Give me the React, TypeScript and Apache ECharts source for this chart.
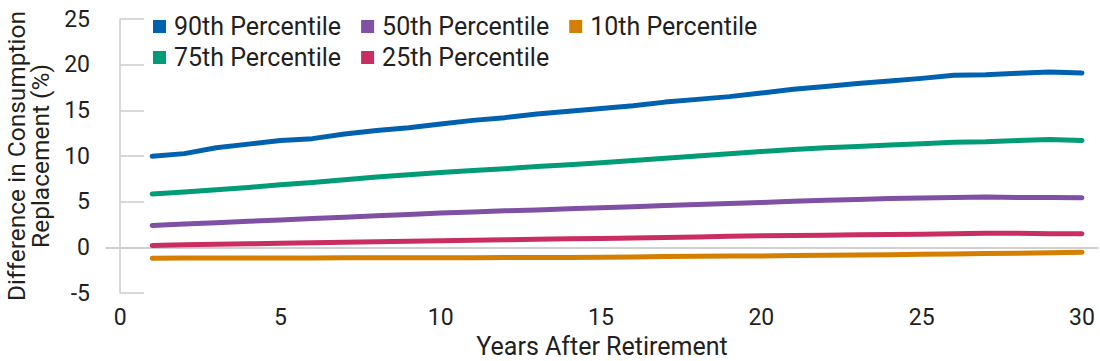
import React, { useEffect, useRef } from "react";
import * as echarts from "echarts";

const years = [1,2,3,4,5,6,7,8,9,10,11,12,13,14,15,16,17,18,19,20,21,22,23,24,25,26,27,28,29,30];
const p90 = [9.96,10.26,10.9,11.3,11.7,11.9,12.4,12.8,13.1,13.5,13.9,14.2,14.6,14.9,15.2,15.5,15.9,16.2,16.5,16.9,17.3,17.6,17.95,18.2,18.5,18.85,18.9,19.05,19.2,19.1];
const p75 = [5.85,6.05,6.3,6.55,6.85,7.1,7.4,7.7,7.95,8.2,8.4,8.6,8.85,9.05,9.25,9.5,9.75,10.0,10.25,10.5,10.7,10.9,11.05,11.2,11.35,11.5,11.55,11.7,11.8,11.7];
const p50 = [2.4,2.55,2.7,2.85,3.0,3.15,3.3,3.45,3.6,3.75,3.87,4.0,4.1,4.22,4.33,4.45,4.57,4.68,4.8,4.9,5.05,5.15,5.25,5.35,5.4,5.45,5.5,5.45,5.45,5.42];
const p25 = [0.2,0.27,0.33,0.38,0.44,0.5,0.55,0.61,0.67,0.73,0.78,0.83,0.88,0.93,0.98,1.03,1.08,1.13,1.2,1.26,1.3,1.33,1.37,1.4,1.44,1.5,1.55,1.55,1.5,1.48];
const p10 = [-1.2,-1.18,-1.17,-1.17,-1.16,-1.16,-1.15,-1.15,-1.14,-1.14,-1.13,-1.12,-1.11,-1.1,-1.09,-1.07,-1.0,-0.98,-0.96,-0.94,-0.9,-0.87,-0.84,-0.8,-0.76,-0.72,-0.68,-0.64,-0.58,-0.55];
const xTicks = [0,5,10,15,20,25,30];

const seriesNames = ["90th Percentile","75th Percentile","50th Percentile","25th Percentile","10th Percentile"];
const seriesData = [p90, p75, p50, p25, p10];
const colors = ["#0061AE","#009B77","#7F50A3","#C92D62","#D47F00"];

const FONT = "Roboto";
const TEXT = "#231f20";

export default function App() {
  const ref = useRef<HTMLDivElement>(null);
  useEffect(() => {
    if (!ref.current) return;
    const chart = echarts.init(ref.current, undefined, { renderer: "svg" });
    const series = seriesNames.map((name, i) => ({
      name,
      type: "line",
      data: years.map((y, j) => [y, seriesData[i][j]]),
      showSymbol: false,
      symbol: "none",
      lineStyle: { color: colors[i], width: 5, cap: "round", join: "round" },
      itemStyle: { color: colors[i] },
      z: 3,
      ...(i === 0
        ? {
            markLine: {
              silent: true,
              symbol: "none",
              label: { show: false },
              lineStyle: { color: "#cccccc", width: 1.5, type: "solid" },
              data: [{ yAxis: 0 }],
              z: 1,
            },
          }
        : {}),
    }));
    const legendCommon = {
      left: 148,
      orient: "horizontal",
      icon: "rect",
      itemWidth: 13,
      itemHeight: 13,
      itemGap: 20,
      selectedMode: false,
      textStyle: { fontFamily: FONT, fontSize: 25, color: TEXT, padding: [0, 0, 0, 3] },
    };
    chart.setOption({
      animation: false,
      color: colors,
      textStyle: { fontFamily: FONT },
      legend: [
        { ...legendCommon, top: 9, data: ["90th Percentile", "50th Percentile", "10th Percentile"] },
        { ...legendCommon, top: 40, data: ["75th Percentile", "25th Percentile"] },
      ],
      grid: { left: 106, right: 2, top: 19, bottom: 68, containLabel: false, outerBoundsMode: "none" },
      xAxis: {
        type: "value",
        min: -0.44,
        max: 30.5,
        name: "Years After Retirement",
        nameLocation: "middle",
        nameGap: 34,
        nameTextStyle: { fontFamily: FONT, fontSize: 25, color: TEXT },
        axisLine: { show: true, lineStyle: { color: "#cccccc", width: 1.5 } },
        axisTick: { show: false },
        splitLine: { show: false },
        axisLabel: {
          customValues: xTicks,
          fontFamily: FONT,
          fontSize: 23,
          color: TEXT,
          margin: 13,
        },
      },
      yAxis: {
        type: "value",
        min: -5,
        max: 25,
        interval: 5,
        name: "Difference in Consumption\nReplacement (%)",
        nameLocation: "middle",
        nameGap: 52,
        nameTextStyle: { fontFamily: FONT, fontSize: 24.5, color: TEXT, lineHeight: 24 },
        axisLine: { show: true, lineStyle: { color: "#cccccc", width: 1.5 } },
        axisTick: { show: true, inside: true, length: 24, lineStyle: { color: "#cccccc", width: 1.5 } },
        splitLine: { show: false },
        axisLabel: { fontFamily: FONT, fontSize: 23, color: TEXT, margin: 16 },
      },
      series,
    });
    return () => chart.dispose();
  }, []);
  return <div ref={ref} style={{ width: 1100, height: 361, position: "absolute", left: 0, top: 0 }} />;
}
